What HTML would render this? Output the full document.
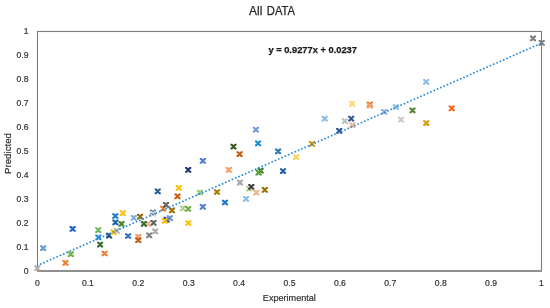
<!DOCTYPE html>
<html><head><meta charset="utf-8"><title>All DATA</title>
<style>
html,body{margin:0;padding:0;background:#fff;}
body{width:550px;height:308px;overflow:hidden;}
svg{display:block;}
text{font-family:"Liberation Sans", Arial, sans-serif;}
</style></head><body>
<svg width="550" height="308" viewBox="0 0 550 308">
<defs><path id="m" d="M-3.1 -2.85L-1.3 -2.85L0 -1.55L1.3 -2.85L3.1 -2.85L3.1 -1.35L1.2 0L3.1 1.35L3.1 2.85L1.3 2.85L0 1.55L-1.3 2.85L-3.1 2.85L-3.1 1.35L-1.2 0L-3.1 -1.35z"/></defs>
<rect width="550" height="308" fill="#fff"/>
<text y="15" font-size="12.4" fill="#262626" stroke="#262626" stroke-width="0.25"><tspan x="249.1" textLength="13.2" lengthAdjust="spacingAndGlyphs">All</tspan> <tspan x="266.8" textLength="28.3" lengthAdjust="spacingAndGlyphs">DATA</tspan></text>
<rect x="37.5" y="31.5" width="504" height="239" fill="none" stroke="#7c7c7c" stroke-width="1.1"/>
<line x1="37" y1="271" x2="542" y2="271" stroke="#909090" stroke-width="1.8"/>
<g font-size="8.6" fill="#333333" stroke="#333333" stroke-width="0.2">
<text x="28.5" y="273.75" text-anchor="end">0</text><text x="28.5" y="249.79" text-anchor="end">0.1</text><text x="28.5" y="225.83" text-anchor="end">0.2</text><text x="28.5" y="201.87" text-anchor="end">0.3</text><text x="28.5" y="177.91" text-anchor="end">0.4</text><text x="28.5" y="153.95" text-anchor="end">0.5</text><text x="28.5" y="129.99" text-anchor="end">0.6</text><text x="28.5" y="106.03" text-anchor="end">0.7</text><text x="28.5" y="82.07" text-anchor="end">0.8</text><text x="28.5" y="58.11" text-anchor="end">0.9</text><text x="28.5" y="34.15" text-anchor="end">1</text>
<text x="37.50" y="285.8" text-anchor="middle">0</text><text x="87.90" y="285.8" text-anchor="middle">0.1</text><text x="138.30" y="285.8" text-anchor="middle">0.2</text><text x="188.70" y="285.8" text-anchor="middle">0.3</text><text x="239.10" y="285.8" text-anchor="middle">0.4</text><text x="289.50" y="285.8" text-anchor="middle">0.5</text><text x="339.90" y="285.8" text-anchor="middle">0.6</text><text x="390.30" y="285.8" text-anchor="middle">0.7</text><text x="440.70" y="285.8" text-anchor="middle">0.8</text><text x="491.10" y="285.8" text-anchor="middle">0.9</text><text x="541.50" y="285.8" text-anchor="middle">1</text>
</g>
<g>

<use href="#m" x="37.3" y="268.2" fill="#B0B0B0"/>
<use href="#m" x="43.2" y="248.2" fill="#5B9BD5"/>
<use href="#m" x="65.5" y="262.9" fill="#ED7D31"/>
<use href="#m" x="70.8" y="254.2" fill="#70AD47"/>
<use href="#m" x="72.65" y="228.9" fill="#1E64C8"/>
<use href="#m" x="98.3" y="230.1" fill="#6CBA5A"/>
<use href="#m" x="98.3" y="237.4" fill="#2E8FD5"/>
<use href="#m" x="100.1" y="244.6" fill="#2F6B2F"/>
<use href="#m" x="104.6" y="253.5" fill="#ED7D31"/>
<use href="#m" x="109.1" y="235.6" fill="#1F4E79"/>
<use href="#m" x="113.5" y="232.2" fill="#FFC000"/>
<use href="#m" x="116.8" y="230.8" fill="#B7B7B7"/>
<use href="#m" x="115.3" y="216" fill="#1F78C8"/>
<use href="#m" x="115.4" y="222.4" fill="#1A5FA8"/>
<use href="#m" x="121.5" y="223.9" fill="#43862B"/>
<use href="#m" x="122.8" y="213.2" fill="#FFC000"/>
<use href="#m" x="128.1" y="236" fill="#2E6FC8"/>
<use href="#m" x="133.8" y="217.8" fill="#7CAFDD"/>
<use href="#m" x="140.1" y="216.7" fill="#8F6A00"/>
<use href="#m" x="138.3" y="236.8" fill="#F5966A"/>
<use href="#m" x="138.3" y="240.2" fill="#C55A11"/>
<use href="#m" x="148" y="223.8" fill="#F8B08A"/>
<use href="#m" x="143.9" y="223.8" fill="#2F6B2F"/>
<use href="#m" x="153.5" y="222.8" fill="#636363"/>
<use href="#m" x="153" y="212.5" fill="#1F5F8F"/>
<use href="#m" x="153" y="213.6" fill="#D4D4D4"/>
<use href="#m" x="163.2" y="208.6" fill="#ED7D31"/>
<use href="#m" x="166" y="204.8" fill="#636363"/>
<use href="#m" x="172" y="210.4" fill="#997300"/>
<use href="#m" x="166.6" y="219.6" fill="#1F3F7F"/>
<use href="#m" x="164.9" y="220.8" fill="#FFC000"/>
<use href="#m" x="169.8" y="218.1" fill="#698ED0"/>
<use href="#m" x="149.2" y="235.3" fill="#7F7F7F"/>
<use href="#m" x="155.2" y="231.4" fill="#ABABAB"/>
<use href="#m" x="182.9" y="208.3" fill="#A9D18E"/>
<use href="#m" x="188.2" y="208.9" fill="#70AD47"/>
<use href="#m" x="188.3" y="223" fill="#FFC000"/>
<use href="#m" x="202.8" y="206.8" fill="#4A7FD0"/>
<use href="#m" x="225" y="202.5" fill="#1874C8"/>
<use href="#m" x="246" y="198.8" fill="#8ABBE6"/>
<use href="#m" x="178.8" y="187.9" fill="#FFC000"/>
<use href="#m" x="177.5" y="196.3" fill="#C55A11"/>
<use href="#m" x="199.9" y="192.5" fill="#8CC878"/>
<use href="#m" x="217" y="192" fill="#A87A00"/>
<use href="#m" x="157.7" y="191.3" fill="#255E91"/>
<use href="#m" x="188.2" y="169.9" fill="#1F3A70"/>
<use href="#m" x="202.85" y="160.9" fill="#4A80D0"/>
<use href="#m" x="228.8" y="169.9" fill="#FA9A5E"/>
<use href="#m" x="240" y="182.6" fill="#A5A5A5"/>
<use href="#m" x="249.2" y="188.6" fill="#A9D18E"/>
<use href="#m" x="251.3" y="186.8" fill="#404040"/>
<use href="#m" x="256.3" y="192.6" fill="#F4B183"/>
<use href="#m" x="264.8" y="189.9" fill="#997300"/>
<use href="#m" x="260.6" y="170.6" fill="#3F7A2A"/>
<use href="#m" x="258.6" y="172.6" fill="#4FA034"/>
<use href="#m" x="255.9" y="129.7" fill="#7099DC"/>
<use href="#m" x="258.1" y="143.3" fill="#1A8CD6"/>
<use href="#m" x="233.5" y="146.6" fill="#385723"/>
<use href="#m" x="239.6" y="154.1" fill="#C55A11"/>
<use href="#m" x="278.1" y="151.4" fill="#2E75B6"/>
<use href="#m" x="283" y="171.1" fill="#2060B8"/>
<use href="#m" x="296.2" y="157.2" fill="#FFD050"/>
<use href="#m" x="312" y="143.9" fill="#D0960A"/>
<use href="#m" x="324.7" y="118.7" fill="#8ABBE6"/>
<use href="#m" x="339.2" y="130.8" fill="#2F5597"/>
<use href="#m" x="344.8" y="121.1" fill="#BFBFBF"/>
<use href="#m" x="352.4" y="125.2" fill="#F4B183"/>
<use href="#m" x="351.2" y="118.7" fill="#2F5597"/>
<use href="#m" x="352.1" y="103.8" fill="#FFD966"/>
<use href="#m" x="369.8" y="104.6" fill="#C55A11"/>
<use href="#m" x="369.8" y="105.6" fill="#F3A878"/>
<use href="#m" x="384.2" y="111.8" fill="#8FAADC"/>
<use href="#m" x="395.8" y="107" fill="#8ABBE6"/>
<use href="#m" x="401" y="119.7" fill="#C9C9C9"/>
<use href="#m" x="412.5" y="110.4" fill="#548235"/>
<use href="#m" x="426.2" y="81.8" fill="#8ABBE6"/>
<use href="#m" x="426.3" y="123.1" fill="#D89A00"/>
<use href="#m" x="451.7" y="108.4" fill="#F06A1A"/>
<use href="#m" x="533" y="38.4" fill="#7F7F7F"/>
<use href="#m" x="541.7" y="42.8" fill="#7F7F7F"/>
</g>
<line x1="37.50" y1="265.42" x2="541.50" y2="43.14" stroke="#1c8adc" stroke-width="1.8" stroke-linecap="round" stroke-dasharray="0.01 3.605" stroke-dashoffset="0.2"/>
<text x="312.7" y="53.4" font-size="9.7" font-weight="bold" fill="#1a1a1a" stroke="#1a1a1a" stroke-width="0.25" text-anchor="middle" textLength="88.6" lengthAdjust="spacingAndGlyphs">y = 0.9277x + 0.0237</text>
<text x="289.35" y="300.9" font-size="9.4" fill="#333333" stroke="#333333" stroke-width="0.22" text-anchor="middle" textLength="53" lengthAdjust="spacingAndGlyphs">Experimental</text>
<text transform="translate(11.2 153.5) rotate(-90)" font-size="9.4" fill="#333333" stroke="#333333" stroke-width="0.22" text-anchor="middle" textLength="41" lengthAdjust="spacingAndGlyphs">Predicted</text>
</svg>
</body></html>
